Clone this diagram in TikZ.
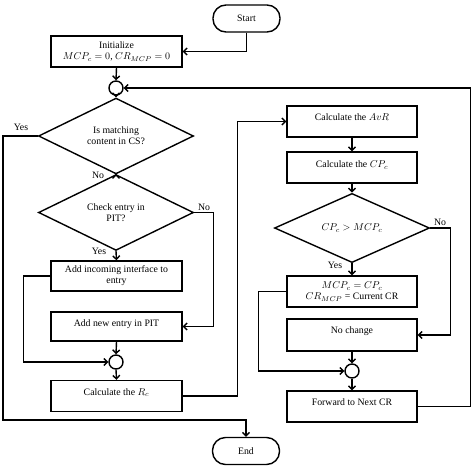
\documentclass[tikz,border=0pt]{standalone}
\usepackage{fontspec}
\setmainfont{Liberation Serif}
\usetikzlibrary{arrows.meta,shapes.geometric}
\begin{document}
\begin{tikzpicture}[x=1pt,y=-1pt,
  every node/.style={font=\fontsize{9.8}{11.2}\selectfont},
  ln/.style={line width=1.4pt},
  arr/.style={ln,-{Straight Barb[length=3.5pt,width=7pt]}},
  box/.style={draw,ln,rectangle,minimum width=131pt,minimum height=31pt,align=center,inner sep=1pt},
  term/.style={draw,ln,rectangle,rounded corners=13pt,minimum width=67pt,minimum height=27pt},
  junc/.style={draw,ln,circle,minimum size=14pt,inner sep=0pt},
  dec/.style={draw,ln,diamond,minimum width=155pt,minimum height=59pt,inner sep=0pt,align=center},
  lab/.style={inner sep=0pt}]
\useasboundingbox (0,0) rectangle (474,474);
% nodes
\node[term] (start) at (246.5,18.5) {Start};
\node[box] (init) at (116.5,51.5) {Initialize\\ $MCP_c = 0$, $CR_{MCP} = 0$};
\node[junc] (c1) at (116,88) {};
\node[dec] (d1) at (116,136) {Is matching\\ content in CS?};
\node[dec,minimum height=61pt] (d2) at (116,212.5) {Check entry in\\ PIT?};
\node[box,minimum height=30pt] (add1) at (116.5,276) {Add incoming interface to\\ entry};
\node[box,minimum height=29pt,text depth=6pt] (add2) at (116.5,326.5) {Add new entry in PIT};
\node[junc] (c2) at (116,362) {};
\node[box,text depth=8pt] (calcR) at (116.5,396) {Calculate the $R_c$};
\node[box,minimum width=130pt,text depth=8pt] (avr) at (352,121.5) {Calculate the $AvR$};
\node[box,minimum width=130pt,text depth=6pt] (cp) at (352,167.5) {Calculate the $CP_c$};
\node[dec,minimum height=60pt] (d3) at (352,228) {$CP_c > MCP_c$};
\node[box,minimum width=130pt] (mcp) at (352,291.5) {$MCP_c = CP_c$\\ $CR_{MCP}$ = Current CR};
\node[box,minimum width=130pt,minimum height=32pt,text depth=9pt] (nochg) at (352,335) {No change};
\node[junc] (c3) at (352,371) {};
\node[box,minimum width=130pt,text depth=8pt] (fwd) at (352,406.5) {Forward to Next CR};
\node[term] (end) at (246,451) {End};
% labels
\node[lab] (lyes1) at (21,127) {Yes};
\node[lab] (lno1) at (98,175) {No};
\node[lab] (lno2) at (204,207) {No};
\node[lab] (lyes2) at (99,251) {Yes};
\node[lab] (lno3) at (440,222) {No};
\node[lab] (lyes3) at (335,265) {Yes};
% helper coordinates
\coordinate (ya) at (3,420);
% connectors
\draw[arr] (start.south) |- (init.east);
\draw[arr] (init.south) -- (c1.north);
\draw[arr] (c1.south) -- (d1.north);
\draw[arr] (d1.west) -| (ya) -| (end.north);
\draw[arr] (d1.south) -- (d2.north);
\draw[arr] (d2.east) -- ++(19,0) |- (add2.east);
\draw[arr] (d2.south) -- (add1.north);
\draw[arr] (add1.west) -- ++(-27,0) |- (c2.west);
\draw[arr] (add2.south) -- (c2.north);
\draw[arr] (c2.south) -- (calcR.north);
\draw[arr] (calcR.east) -- ++(55,0) |- (avr.west);
\draw[arr] (avr.south) -- (cp.north);
\draw[arr] (cp.south) -- (d3.north);
\draw[arr] (d3.east) -- ++(20,0) |- (nochg.east);
\draw[arr] (d3.south) -- (mcp.north);
\draw[arr] (mcp.west) -- ++(-28,0) |- (c3.west);
\draw[arr] (nochg.south) -- (c3.north);
\draw[arr] (c3.south) -- (fwd.north);
\draw[arr] (fwd.east) -- ++(53,0) |- (c1.east);
\end{tikzpicture}
\end{document}
